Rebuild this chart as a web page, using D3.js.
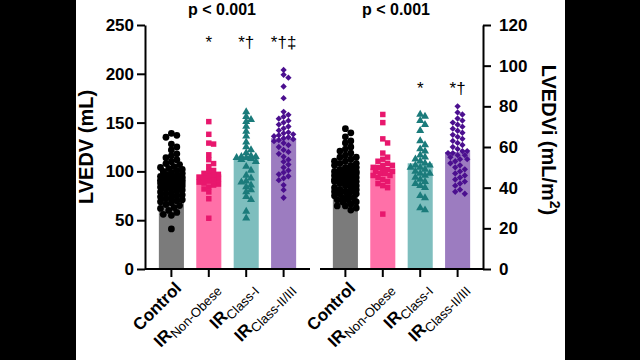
<!DOCTYPE html>
<html><head><meta charset="utf-8">
<script src="https://cdn.jsdelivr.net/npm/d3@7"></script>
<style>body{margin:0;background:#000}svg{display:block}</style></head>
<body><svg id="c" width="640" height="360"></svg>
<script>
const categories = ["Control", "IR Non-Obese", "IR Class-I", "IR Class-II/III"];
const mainLabels = ["Control", "IR", "IR", "IR"];
const subLabels = ["", "Non-Obese", "Class-I", "Class-II/III"];
const lvedvMeans = [89, 97, 113, 134];
const lvediMeans = [47, 49.5, 52, 57.5];
const leftTicks = [0, 50, 100, 150, 200, 250];
const rightTicks = [0, 20, 40, 60, 80, 100, 120];
const sigLeft = ["", "*", "*†", "*†‡"];
const sigRight = ["", "", "*", "*†"];
const pLeft = "p < 0.001";
const pRight = "p < 0.001";

const lvedvControl = [139,137,135,128,125,122,118,116,114,112,110,108,107,105,104,103,102,101,100,99,98,97,96,95,95,94,93,93,92,91,91,90,90,89,88,88,87,86,86,85,84,84,83,82,81,80,79,78,77,76,75,74,73,72,71,70,69,68,66,65,63,62,60,58,56,55,41];
const lvedvNonObese = [151,138,129,128,117,112,108,105,101,100,98,97,96,95,94,93,92,91,90,89,88,87,86,84,82,79,72,52];
const lvedvClassI = [161,156,153,151,146,141,136,130,125,122,119,116,115,115,114,114,113,112,110,105,101,96,93,90,89,86,84,81,79,74,71,59,52];
const lvedvClassII = [204,199,196,187,175,161,158,156,154,152,150,148,146,144,142,140,139,138,137,136,135,134,133,132,131,129,127,125,122,120,118,115,112,110,107,104,101,99,97,95,93,91,86,81,73];

const lvediControl = [69,67,65,63,62,60,59,58,57,56,55,55,54,53,53,52,52,51,51,50,50,49,49,48,48,48,47,47,47,46,46,46,45,45,45,44,44,44,43,43,43,42,42,41,41,40,40,39,39,38,38,37,37,36,36,35,35,34,34,33,33,32,31,31,30,29,38];
const lvediNonObese = [76,72,64,62,57,55,54,53,52,51,51,50,50,49,49,48,48,47,47,46,46,45,44,43,42,41,40,27];
const lvediClassI = [76,75,73,71,68,63,61,59,58,56,55,54,53,52,51,51,50,50,49,48,47,47,46,45,44,43,42,41,40,36,35,30,29];
const lvediClassII = [80,77,76,74,73,72,71,70,69,68,67,66,65,64,63,62,61,60,59,58,58,57,57,56,56,55,54,54,53,52,51,50,49,48,47,46,45,44,43,42,41,39,38,37];

const barColors = ["#7b7b7b", "#ff70a8", "#7ebebe", "#9c7cc0"];
const pointColors = ["#000000", "#e8176d", "#1b7b7b", "#4b0f8f"];
const FONT = "'Liberation Sans', Arial, sans-serif";

const svg = d3.select("#c");
svg.append("rect").attr("width", 640).attr("height", 360).attr("fill", "#000");
svg.append("rect").attr("x", 76).attr("width", 489).attr("height", 360).attr("fill", "#fff");

const yL = d3.scaleLinear().domain([0, 250]).range([269, 25]);
const yR = d3.scaleLinear().domain([0, 120]).range([269, 25]);
const xL = d3.scaleBand().domain(categories).range([152.5, 302.5]).paddingInner(0.33).paddingOuter(0.17);
const xR = d3.scaleBand().domain(categories).range([326.5, 476.5]).paddingInner(0.33).paddingOuter(0.17);

function swarm(values, y, cx, r, maxOff) {
  const order = values.map((v, i) => i).sort((a, b) => values[b] - values[a]);
  const placed = [];
  const out = new Array(values.length);
  const step = r * 0.8;
  const lim = 2 * r * 0.8;
  const nSteps = Math.floor(maxOff / step);
  for (const i of order) {
    const py = y(values[i]);
    let best = cx, bestOv = Infinity;
    for (let k = 0; k <= nSteps * 2; k++) {
      const off = (k % 2 ? 1 : -1) * Math.ceil(k / 2) * step;
      const px = cx + off;
      let ov = 0;
      for (const p of placed) {
        const d = Math.hypot(p[0] - px, p[1] - py);
        if (d < lim) ov += lim - d;
      }
      if (ov === 0) { best = px; bestOv = 0; break; }
      if (ov < bestOv) { bestOv = ov; best = px; }
    }
    placed.push([best, py]);
    out[i] = [best, py];
  }
  return out;
}

const symbols = [
  {type: d3.symbolCircle, size: 36, rot: 0, r: 3.4},
  {type: d3.symbolSquare, size: 30, rot: 0, r: 3.0},
  {type: d3.symbolTriangle, size: 28, rot: 0, r: 3.0},
  {type: d3.symbolSquare, size: 20, rot: 45, r: 3.0}
];

function panel(x, y, means, groups, axisX0, axisX1, sig, sigBase) {
  const g = svg.append("g");
  g.selectAll("rect.bar").data(categories).join("rect")
    .attr("x", d => x(d)).attr("width", x.bandwidth())
    .attr("y", (d, i) => y(means[i])).attr("height", (d, i) => y(0) - y(means[i]))
    .attr("fill", (d, i) => barColors[i]);
  categories.forEach((c, i) => {
    const cx = x(c) + x.bandwidth() / 2;
    const s = symbols[i];
    const pos = swarm(groups[i], y, cx, s.r, 12);
    const path = d3.symbol().type(s.type).size(s.size)();
    g.append("g").selectAll("path").data(pos).join("path")
      .attr("d", path)
      .attr("transform", p => `translate(${p[0]},${p[1]}) rotate(${s.rot})`)
      .attr("fill", pointColors[i]);
    if (sig[i]) {
      g.append("text").attr("x", cx).attr("y", sigBase).attr("text-anchor", "middle")
        .attr("font-family", FONT).attr("font-size", 17).attr("fill", "#000").text(sig[i]);
    }
  });
  g.append("line").attr("x1", axisX0).attr("x2", axisX1).attr("y1", y(0)).attr("y2", y(0))
    .attr("stroke", "#000").attr("stroke-width", 2);
  categories.forEach((c, i) => {
    const cx = x(c) + x.bandwidth() / 2;
    g.append("line").attr("x1", cx).attr("x2", cx).attr("y1", y(0)).attr("y2", y(0) + 8)
      .attr("stroke", "#000").attr("stroke-width", 2);
    const t = g.append("text").attr("transform", `translate(${cx + 3},${y(0) + 12}) rotate(-45)`)
      .attr("text-anchor", "end").attr("dy", "0.71em").attr("font-family", FONT).attr("fill", "#000");
    t.append("tspan").attr("font-weight", "bold").attr("font-size", 17).text(mainLabels[i]);
    if (subLabels[i]) {
      t.append("tspan").attr("font-size", 13).attr("dy", 4).text(subLabels[i]);
    }
  });
}

panel(xL, yL, lvedvMeans, [lvedvControl, lvedvNonObese, lvedvClassI, lvedvClassII], 145, 310, sigLeft, 48);
panel(xR, yR, lvediMeans, [lvediControl, lvediNonObese, lvediClassI, lvediClassII], 320, 483, sigRight, 94);

function styleAxis(sel) {
  sel.select(".domain").attr("stroke-width", 2);
  sel.selectAll(".tick line").attr("stroke-width", 2);
  sel.selectAll(".tick text").attr("font-family", FONT).attr("font-size", 17).attr("font-weight", "bold").attr("fill", "#000");
}
svg.append("g").attr("transform", "translate(145,0)")
  .call(d3.axisLeft(yL).tickValues(leftTicks).tickSize(8).tickSizeOuter(0).tickPadding(3))
  .call(styleAxis);
svg.append("g").attr("transform", "translate(483,0)")
  .call(d3.axisRight(yR).tickValues(rightTicks).tickSize(8).tickSizeOuter(0).tickPadding(8))
  .call(styleAxis);

svg.append("text").attr("x", 222).attr("y", 15).attr("text-anchor", "middle")
  .attr("font-family", FONT).attr("font-weight", "bold").attr("font-size", 16).text(pLeft);
svg.append("text").attr("x", 396).attr("y", 15).attr("text-anchor", "middle")
  .attr("font-family", FONT).attr("font-weight", "bold").attr("font-size", 16).text(pRight);

svg.append("text").attr("transform", "translate(93,147) rotate(-90)").attr("text-anchor", "middle")
  .attr("font-family", FONT).attr("font-weight", "bold").attr("font-size", 20).text("LVEDV (mL)");
const rl = svg.append("text").attr("transform", "translate(542,140) rotate(90)").attr("text-anchor", "middle")
  .attr("font-family", FONT).attr("font-weight", "bold").attr("font-size", 20);
rl.append("tspan").text("LVEDVi (mL/m");
rl.append("tspan").attr("font-size", 14).attr("dy", -8).text("2");
rl.append("tspan").attr("dy", 8).text(")");
</script></body></html>
